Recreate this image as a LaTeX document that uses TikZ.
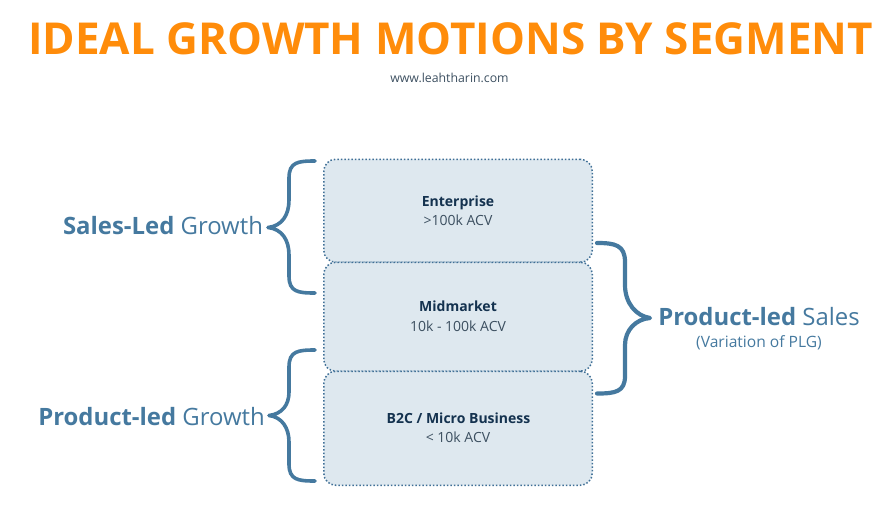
\documentclass[tikz,border=0pt]{standalone}
\usepackage{fontspec}
\setmainfont{Open Sans}
\definecolor{orangeT}{HTML}{FF8C0A}
\definecolor{blueB}{HTML}{45799F}
\definecolor{fillB}{HTML}{DEE8EF}
\definecolor{edgeB}{HTML}{3F6F96}
\definecolor{navyT}{HTML}{14324F}
\definecolor{grayT}{HTML}{3C4F60}
\newcommand{\fs}[1]{\fontsize{#1}{#1}\selectfont}
\tikzset{
 seg/.style={draw=edgeB,fill=fillB,line width=1.5pt,dotted,rounded corners=12pt,minimum width=268.5pt,inner sep=0pt,anchor=north west},
 brace/.style={draw=blueB,line width=3.6pt,line cap=round,line join=round},
 bigl/.style={text=blueB,inner sep=0pt,font=\fs{23.9}},
 segt/.style={text=navyT,inner sep=0pt,font=\fs{14}\bfseries},
 segs/.style={text=grayT,inner sep=0pt,font=\fs{14}},
}
\begin{document}
\begin{tikzpicture}[x=1pt,y=-1pt]
\useasboundingbox (0,0) rectangle (893,506);
\node[text=orangeT,inner sep=0pt,font=\fs{44}\bfseries] (title) at (450.5,38.5) {IDEAL GROWTH MOTIONS BY SEGMENT};
\node[text=grayT,inner sep=0pt,font=\fs{12.3}] (www) at (449.5,77.5) {www.leahtharin.com};
\node[seg,minimum height=103pt] (ent) at (323,158.5) {};
\node[seg,minimum height=109pt] (mid) at (323,261.5) {};
\node[seg,minimum height=114pt] (b2c) at (323,370.5) {};
\node[segt] (t1) at (458,202.5) {Enterprise};
\node[segs] (s1) at (458,220.5) {>100k ACV};
\node[segt] (t2) at (458,306) {Midmarket};
\node[segs] (s2) at (458,326) {10k - 100k ACV};
\node[segt] (t3) at (458.5,418) {B2C / Micro Business};
\node[segs] (s3) at (458,437) {< 10k ACV};
\node[bigl] (sl) at (163,225.5) {\textbf{Sales-Led} Growth};
\node[bigl] (pl) at (151.5,416.5) {\textbf{Product-led} Growth};
\node[bigl] (ps) at (759,316.5) {\textbf{Product-led} Sales};
\node[text=blueB,inner sep=0pt,font=\fs{15.6}] (var) at (759,342.5) {(Variation of PLG)};
\draw[brace] (315,161) .. controls (298,161) and (289,162) .. (289,178) -- (289,200) .. controls (289,215) and (282,226) .. (268,227.5) .. controls (282,229) and (289,240) .. (289,255) -- (289,276) .. controls (289,292) and (298,293) .. (315,293);
\draw[brace] (315,350) .. controls (298,350) and (289,351) .. (289,367) -- (289,392) .. controls (289,405) and (282,414) .. (269,415.5) .. controls (282,417) and (289,428) .. (289,442) -- (289,464) .. controls (289,480) and (298,481) .. (315,481);
\draw[brace,line width=4.2pt] (597,243) .. controls (615,243) and (625,245) .. (625,262) -- (625,285) .. controls (625,303) and (636,316) .. (650,318) .. controls (636,319) and (625,330) .. (625,345) -- (625,376) .. controls (625,392) and (615,393.5) .. (597,393.5);
\end{tikzpicture}
\end{document}
